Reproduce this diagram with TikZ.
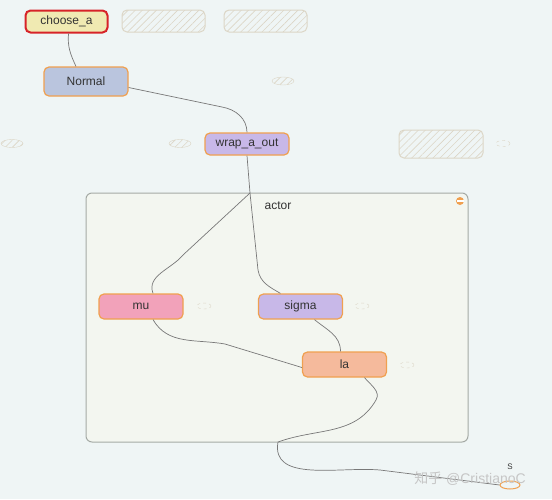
\documentclass[tikz,border=0pt]{standalone}
\usepackage{fontspec}
\setmainfont{Liberation Sans}
\newfontfamily\cjk{Noto Sans CJK SC}
\usepackage{tikz}
\usetikzlibrary{positioning}
\usetikzlibrary{patterns.meta}
\usetikzlibrary{shapes.geometric}

\definecolor{fondo}{RGB}{239,245,245}
\definecolor{fondoact}{RGB}{243,246,240}
\definecolor{bordeact}{RGB}{165,170,165}
\definecolor{naranja}{RGB}{240,160,80}
\definecolor{rojo}{RGB}{215,35,40}
\definecolor{arista}{RGB}{120,120,120}
\definecolor{tenue}{RGB}{220,214,198}
\definecolor{amarillo}{RGB}{240,234,178}
\definecolor{azulgris}{RGB}{186,197,222}
\definecolor{morado}{RGB}{200,184,232}
\definecolor{rosa}{RGB}{242,162,186}
\definecolor{melocoton}{RGB}{245,186,156}

\begin{document}
\begin{tikzpicture}[x=1pt, y=-1pt,
    op/.style={draw=naranja, line width=1.2pt, rounded corners=5pt, minimum width=84pt, minimum height=25pt, font=\fontsize{12}{14}\selectfont, text=black!80},
    rayas/.style={pattern={Lines[angle=45, distance=5pt, line width=0.6pt]}, pattern color=tenue},
    vacio/.style={draw=tenue, line width=1pt, rounded corners=5pt, rayas, minimum width=83pt, minimum height=22pt},
    mini/.style={draw=tenue, ellipse, rayas, minimum width=22pt, minimum height=8pt, inner sep=0pt},
    serie/.style={draw=tenue, dashed, ellipse, minimum width=14pt, minimum height=6pt, inner sep=0pt},
    edge/.style={draw=arista, line width=0.7pt}]
            % Fondo
            \fill[fondo] (0,0) rectangle (552,499);
            \useasboundingbox (0,0) rectangle (552,499);

            % Grupo actor
            \node[draw=bordeact, fill=fondoact, line width=1pt, rounded corners=6pt, minimum width=382pt, minimum height=249pt] (actor) at (277,317.5) {};
            \node[font=\fontsize{12}{14}\selectfont, text=black!80] (actorlbl) at (278,206) {actor};
            \node[circle, fill=naranja, minimum size=8pt, inner sep=0pt] (quitar) at (460,201) {};
            \fill[white] (456.5,200.2) rectangle (463.5,201.8);

            % Nodos
            \node[op, fill=amarillo, draw=rojo, line width=2pt, minimum width=82pt, minimum height=22pt] (choose) at (66.5,21.5) {choose\_a};
            \node[vacio] (h1) at (163.5,21) {};
            \node[vacio] (h2) at (265.5,21) {};
            \node[op, fill=azulgris, minimum height=29pt] (normal) at (86,81.5) {Normal};
            \node[mini] (e1) at (283,81) {};
            \node[mini] (e2) at (12,143.5) {};
            \node[mini] (e3) at (180,143.5) {};
            \node[op, fill=morado, minimum height=22pt] (wrap) at (247,144) {wrap\_a\_out};
            \node[vacio, minimum width=84pt, minimum height=28pt] (h3) at (441,144) {};
            \node[serie] (s0) at (503,143.5) {};
            \node[op, fill=rosa] (mu) at (141,306.5) {mu};
            \node[serie] (s1) at (204,306) {};
            \node[op, fill=morado] (sigma) at (300.5,306.5) {sigma};
            \node[serie] (s2) at (362,306) {};
            \node[op, fill=melocoton] (la) at (344.5,364.5) {la};
            \node[serie] (s3) at (407,365) {};
            \node[draw=naranja, line width=1pt, ellipse, minimum width=20pt, minimum height=8pt, inner sep=0pt] (S) at (510,485) {};
            \node[font=\fontsize{8}{9}\selectfont, text=black!80] (Slbl) at (510,467) {S};
            \coordinate (entra) at (250,193);
            \coordinate (sale) at (278,442);

            % Aristas
            \draw[edge] ([xshift=2pt]choose.south) to[out=-95,in=115] ([xshift=-10pt]normal.north);
            \draw[edge] ([yshift=-6pt]normal.east) -- (222,107) to[out=-10,in=90] (wrap.north);
            \draw[edge] (wrap.south) -- (entra);
            \draw[edge] (entra) -- (183,255) to[out=-130,in=110] ([xshift=12pt]mu.north);
            \draw[edge] (entra) -- (258,270) to[out=-80,in=150] ([xshift=-20pt]sigma.north);
            \draw[edge] ([xshift=12pt]mu.south) to[out=-60,in=170] (225,344) -- ([yshift=-3pt]la.west);
            \draw[edge] ([xshift=14pt]sigma.south) to[out=-40,in=90] ([xshift=-4pt]la.north);
            \draw[edge] ([xshift=20pt]la.south) to[out=-50,in=60] (376,400) to[out=-120,in=20] (sale);
            \draw[edge] (sale) to[out=-100,in=175] (380,470) -- (S.west);

            % Marca de agua
            \node[text=gray!45, font=\fontsize{14}{16}\selectfont] (marca) at (470,479) {{\cjk 知乎} @CristianoC};
          \end{tikzpicture}
\end{document}
